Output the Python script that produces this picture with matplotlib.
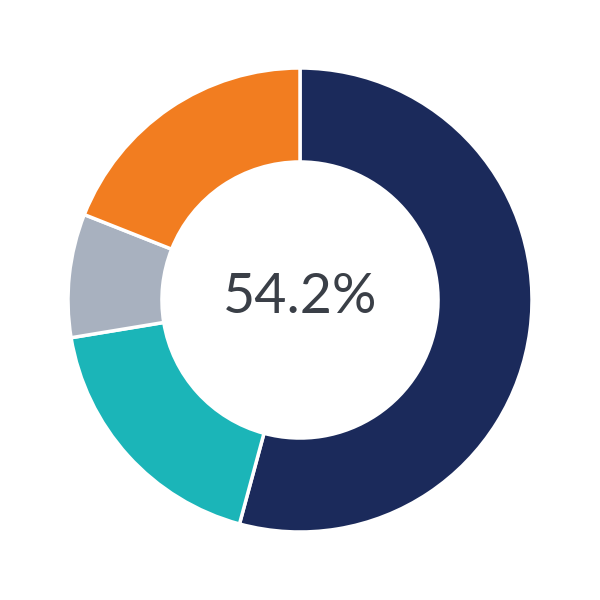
import matplotlib.pyplot as plt

labels = ['Navy', 'Teal', 'Gray', 'Orange']
values = [54.2, 18.2, 8.6, 19.0]
colors = ['#1b2a5b', '#1bb5b8', '#a8b1bf', '#f27d20']
center_text = '54.2%'

fig = plt.figure(figsize=(6, 6), dpi=100)
ax = fig.add_axes([0, 0, 1, 1])

ax.pie(values, colors=colors, startangle=90, counterclock=False,
       radius=1, wedgeprops=dict(width=0.405, edgecolor='white', linewidth=2.5))

ax.text(0, 0.01, center_text, ha='center', va='center', fontsize=40,
        family=['Lato', 'DejaVu Sans'], color='#3a3f47')

lim = 300 / 232
ax.set_xlim(-lim, lim)
ax.set_ylim(-lim, lim)
ax.set_aspect('equal')
ax.axis('off')

fig.savefig('out.png', dpi=100, facecolor='white')
